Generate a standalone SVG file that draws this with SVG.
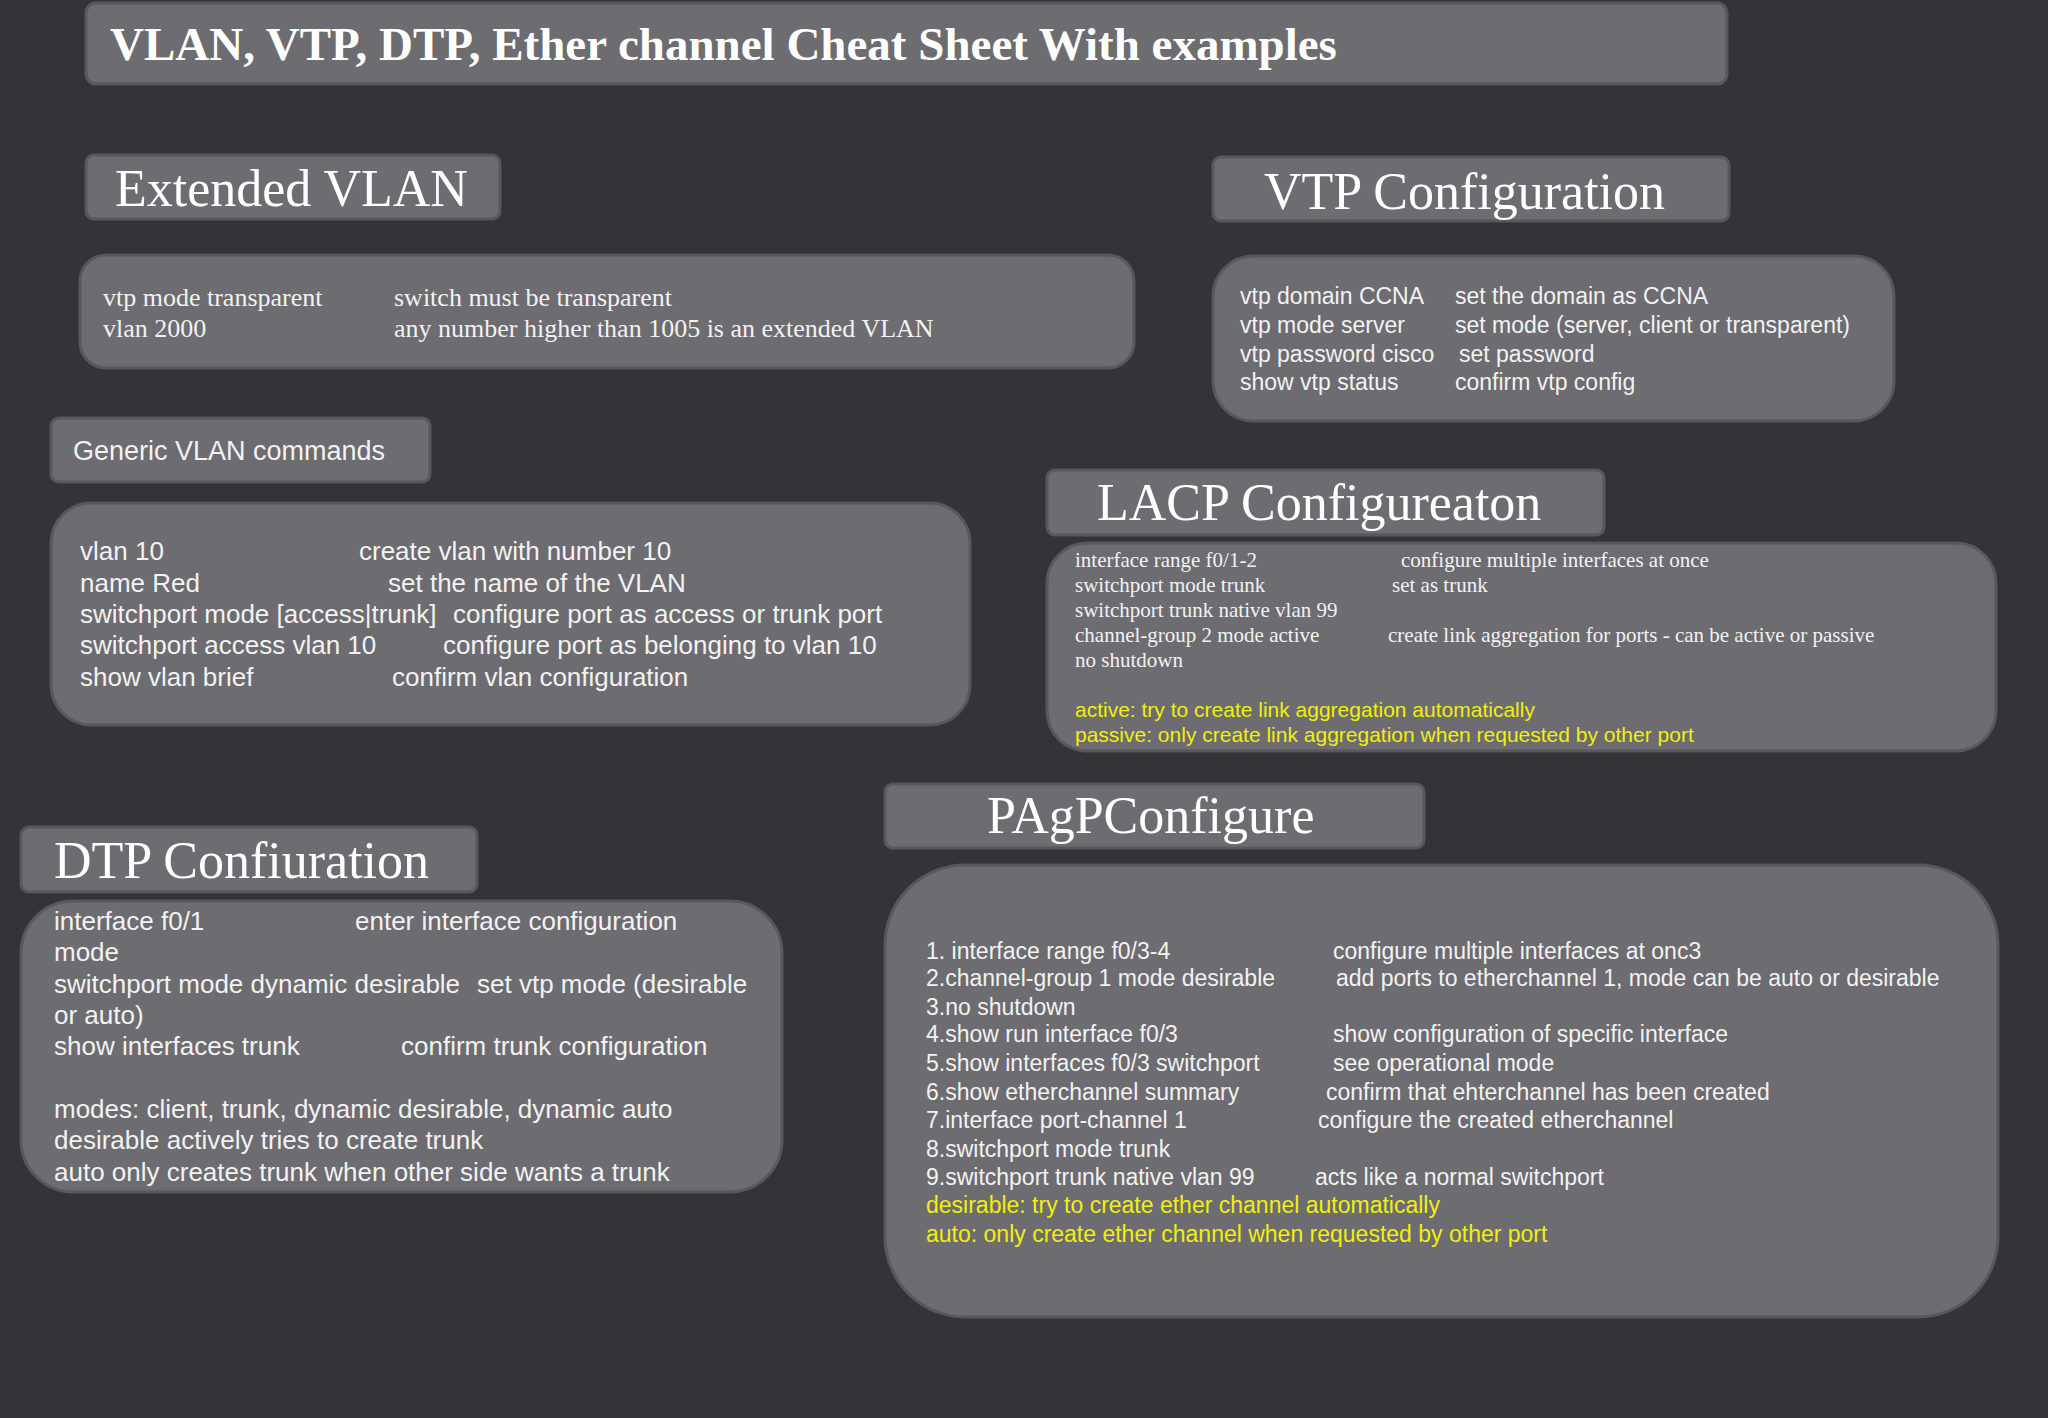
<svg xmlns="http://www.w3.org/2000/svg" width="2048" height="1418" viewBox="0 0 2048 1418">
<style>
.box{fill:#6d6c71;stroke:#58575c;stroke-width:3}
.s{font-family:"Liberation Sans",Arial,sans-serif;fill:#f2f2f2}
.r{font-family:"Liberation Serif","Times New Roman",serif;fill:#f2f2f2}
.y{font-family:"Liberation Sans",Arial,sans-serif;fill:#f0f00a}
.h{font-family:"Liberation Serif","Times New Roman",serif;fill:#ffffff;font-size:52px}
</style>
<rect width="2048" height="1418" fill="#343338"/>
<g id="title"><rect class="box" x="86" y="3" width="1641" height="81" rx="10"/>
<text x="110" y="60" font-family="Liberation Serif,serif" font-weight="bold" font-size="47" fill="#fff">VLAN, VTP, DTP, Ether channel  Cheat Sheet With examples</text></g>
<g id="ext-head"><rect class="box" x="86" y="155" width="414" height="64" rx="8"/><text class="h" x="115" y="206">Extended VLAN</text></g>
<g id="ext-body"><rect class="box" x="80" y="255" width="1054" height="113" rx="26"/>
<g class="r" font-size="26"><text x="103" y="306">vtp mode transparent</text><text x="394" y="306">switch must be transparent</text>
<text x="103" y="337">vlan 2000</text><text x="394" y="337">any number higher than 1005 is an extended VLAN</text></g></g>
<g id="vtp-head"><rect class="box" x="1213" y="157" width="516" height="64" rx="8"/><text class="h" x="1264" y="209">VTP Configuration</text></g>
<g id="vtp-body"><rect class="box" x="1213" y="256" width="681" height="165" rx="40"/>
<g class="s" font-size="23"><text x="1240" y="304">vtp domain CCNA</text><text x="1455" y="304">set the domain as CCNA</text>
<text x="1240" y="333">vtp mode server</text><text x="1455" y="333">set mode (server, client or transparent)</text>
<text x="1240" y="362">vtp password cisco</text><text x="1459" y="362">set password</text>
<text x="1240" y="390">show vtp status</text><text x="1455" y="390">confirm vtp config</text></g></g>
<g id="gen-head"><rect class="box" x="51" y="418" width="379" height="64" rx="8"/><text class="s" x="73" y="460" font-size="27">Generic VLAN commands</text></g>
<g id="gen-body"><rect class="box" x="51" y="503" width="919" height="222" rx="40"/>
<g class="s" font-size="26"><text x="80" y="560">vlan 10</text><text x="359" y="560">create vlan with number 10</text>
<text x="80" y="592">name Red</text><text x="388" y="592">set the name of the VLAN</text>
<text x="80" y="623">switchport mode [access|trunk]</text><text x="453" y="623">configure port as access or trunk port</text>
<text x="80" y="654">switchport access vlan 10</text><text x="443" y="654">configure port as belonging to vlan 10</text>
<text x="80" y="686">show vlan brief</text><text x="392" y="686">confirm vlan configuration</text></g></g>
<g id="lacp-head"><rect class="box" x="1047" y="470" width="557" height="65" rx="8"/><text class="h" x="1097" y="520">LACP Configureaton</text></g>
<g id="lacp-body"><rect class="box" x="1047" y="543" width="949" height="208" rx="40"/>
<g class="r" font-size="21"><text x="1075" y="567">interface range f0/1-2</text><text x="1401" y="567">configure multiple interfaces at once</text>
<text x="1075" y="592">switchport mode trunk</text><text x="1392" y="592">set as trunk</text>
<text x="1075" y="617">switchport trunk native vlan 99</text>
<text x="1075" y="642">channel-group 2 mode active</text><text x="1388" y="642">create link aggregation for ports - can be active or passive</text>
<text x="1075" y="667">no shutdown</text></g>
<g class="y" font-size="21"><text x="1075" y="717">active: try to create link aggregation automatically</text>
<text x="1075" y="742">passive: only create link aggregation when requested by other port</text></g></g>
<g id="pagp-head"><rect class="box" x="885" y="784" width="539" height="64" rx="8"/><text class="h" x="987" y="833">PAgPConfigure</text></g>
<g id="pagp-body"><rect class="box" x="885" y="865" width="1113" height="452" rx="80"/>
<g class="s" font-size="23"><text x="926" y="959">1. interface range f0/3-4</text><text x="1333" y="959">configure multiple interfaces at onc3</text>
<text x="926" y="986">2.channel-group 1 mode desirable</text><text x="1336" y="986">add ports to etherchannel 1, mode can be auto or desirable</text>
<text x="926" y="1015">3.no shutdown</text>
<text x="926" y="1042">4.show run interface f0/3</text><text x="1333" y="1042">show configuration of specific interface</text>
<text x="926" y="1071">5.show interfaces f0/3 switchport</text><text x="1333" y="1071">see operational mode</text>
<text x="926" y="1100">6.show etherchannel summary</text><text x="1326" y="1100">confirm that ehterchannel has been created</text>
<text x="926" y="1128">7.interface port-channel 1</text><text x="1318" y="1128">configure the created etherchannel</text>
<text x="926" y="1157">8.switchport mode trunk</text>
<text x="926" y="1185">9.switchport trunk native vlan 99</text><text x="1315" y="1185">acts like a normal switchport</text></g>
<g class="y" font-size="23"><text x="926" y="1213">desirable: try to create ether channel automatically</text>
<text x="926" y="1242">auto: only create ether channel when requested by other port</text></g></g>
<g id="dtp-head"><rect class="box" x="21" y="827" width="456" height="65" rx="8"/><text class="h" x="54" y="878">DTP Confiuration</text></g>
<g id="dtp-body"><rect class="box" x="21" y="901" width="761" height="291" rx="52"/>
<g class="s" font-size="26"><text x="54" y="930">interface f0/1</text><text x="355" y="930">enter interface configuration</text>
<text x="54" y="961">mode</text>
<text x="54" y="993">switchport mode dynamic desirable</text><text x="477" y="993">set vtp mode (desirable</text>
<text x="54" y="1024">or auto)</text>
<text x="54" y="1055">show interfaces trunk</text><text x="401" y="1055">confirm trunk configuration</text>
<text x="54" y="1118">modes: client, trunk, dynamic desirable, dynamic auto</text>
<text x="54" y="1149">desirable actively tries to create trunk</text>
<text x="54" y="1181">auto only creates trunk when other side wants a trunk</text></g></g>
<g id="connectors"/>
</svg>
